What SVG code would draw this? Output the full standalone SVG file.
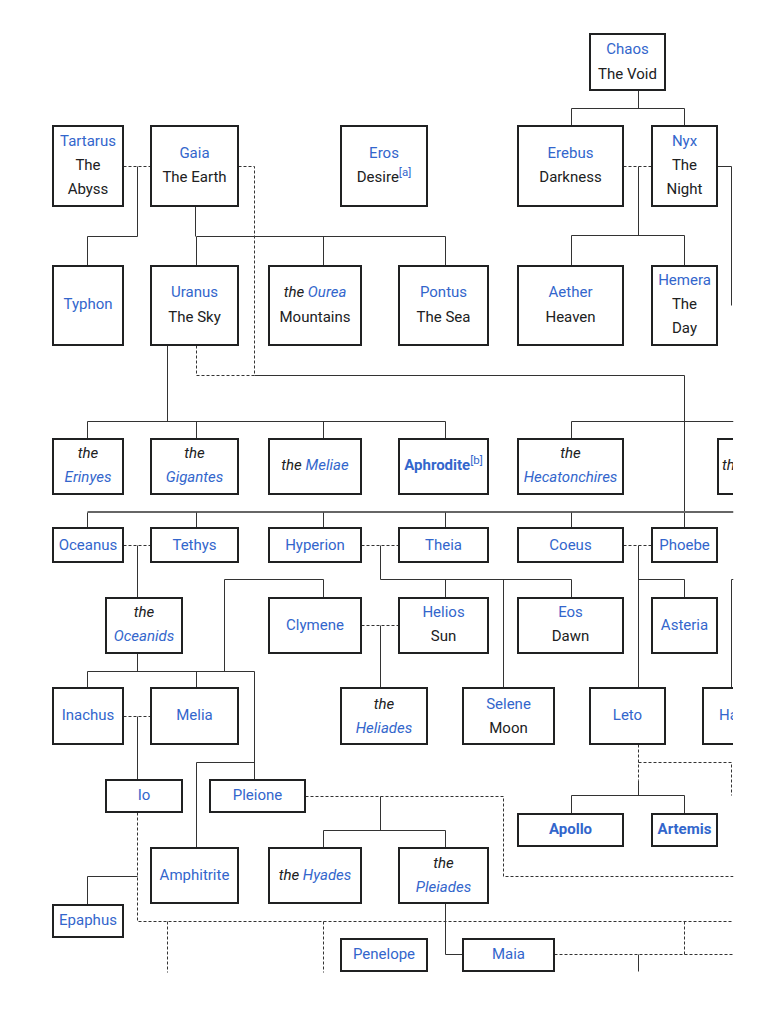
<svg xmlns="http://www.w3.org/2000/svg" width="768" height="1024" viewBox="0 0 768 1024">
<style>
text{font-family:Roboto,"Noto Sans","Liberation Sans",sans-serif;font-size:15px;text-anchor:middle}
.b{fill:#3366cc}.k{fill:#202122}.i{font-style:italic}.w{font-weight:bold}
rect{fill:#fff;stroke:#202122;stroke-width:2}
.c path{fill:none;stroke:#333;stroke-width:1}
.c .d{stroke-dasharray:3 2}
.c .g{stroke:#666;stroke-width:2}
</style>
<defs><clipPath id="clip"><rect x="0" y="0" width="733" height="1024" style="stroke:none"/></clipPath></defs>
<rect x="0" y="0" width="768" height="1024" style="stroke:none;fill:#fff"/>
<g class="c" transform="translate(0.5,0.5)" clip-path="url(#clip)">
<path d="M638 90V108M571 108H684M571 108V126M684 108V126"/>
<path class="d" d="M623 166H652"/>
<path d="M638 166V235M571 235H684M571 235V266M684 235V266"/>
<path d="M717 166H731V305"/>
<path class="d" d="M123 166H151"/>
<path d="M137 166V236H87V266"/>
<path d="M195 206V236M196 236H445M196 236V266M323 236V266M445 236V266"/>
<path class="d" d="M238 166H254V375M196 345V375H254"/>
<path d="M254 375H684V528"/>
<path d="M167 345V421M87 421H445M87 421V439M196 421V439M323 421V439M445 421V439"/>
<path d="M571 421H733M571 421V439"/>
<path class="g" d="M87 511.5H733"/>
<path d="M87 512V528M196 512V528M323 512V528M445 512V528M571 512V528"/>
<path class="d" d="M123 545H151M361 545H399M623 545H652"/>
<path d="M137 545V598"/>
<path d="M380 545V579H571V598M445 579V598M503 579V688"/>
<path d="M638 545V688M638 579H684V598"/>
<path d="M731 579V688M731 579H733"/>
<path d="M224 671V579H323V598"/>
<path d="M137 653V671M87 671H254M87 671V688M196 671V688M254 671V780M254 762H196V848"/>
<path class="d" d="M361 625H399"/>
<path d="M380 625V688"/>
<path class="d" d="M123 716H151"/>
<path d="M137 716V780"/>
<path class="d" d="M137 812V921H733"/>
<path d="M137 876H87V905"/>
<path class="d" d="M167 921V972M323 921V972"/>
<path class="d" d="M305 796H503V876H733"/>
<path d="M380 796V830M323 830H445M323 830V848M445 830V848"/>
<path d="M445 903V954H463"/>
<path class="d" d="M554 954H733M684 921V954"/>
<path d="M638 954V971"/>
<path class="d" d="M638 744V780M638 762H731V795"/>
<path d="M638 780V795M571 795H684M571 795V814M684 795V814"/>
</g>
<g id="chaos"><rect x="590" y="34" width="75" height="56"/><text x="627.5" y="54" class="b">Chaos</text><text x="627.5" y="79" class="k">The Void</text></g>
<g id="tartarus"><rect x="53" y="126" width="70" height="80"/><text x="88" y="146" class="b">Tartarus</text><text x="88" y="170" class="k">The</text><text x="88" y="194" class="k">Abyss</text></g>
<g id="gaia"><rect x="151" y="126" width="87" height="80"/><text x="194.5" y="158" class="b">Gaia</text><text x="194.5" y="182" class="k">The Earth</text></g>
<g id="eros"><rect x="341" y="126" width="86" height="80"/><text x="384" y="158" class="b">Eros</text><text x="384" y="182"><tspan class="k">Desire</tspan><tspan class="b" font-size="11.5" dy="-6">[a]</tspan></text></g>
<g id="erebus"><rect x="518" y="126" width="105" height="80"/><text x="570.5" y="158" class="b">Erebus</text><text x="570.5" y="182" class="k">Darkness</text></g>
<g id="nyx"><rect x="652" y="126" width="65" height="80"/><text x="684.5" y="146" class="b">Nyx</text><text x="684.5" y="170" class="k">The</text><text x="684.5" y="194" class="k">Night</text></g>
<g id="typhon"><rect x="53" y="266" width="70" height="79"/><text x="88" y="309" class="b">Typhon</text></g>
<g id="uranus"><rect x="151" y="266" width="87" height="79"/><text x="194.5" y="297" class="b">Uranus</text><text x="194.5" y="322" class="k">The Sky</text></g>
<g id="ourea"><rect x="269" y="266" width="92" height="79"/><text x="315" y="297" class="i"><tspan class="k">the </tspan><tspan class="b">Ourea</tspan></text><text x="315" y="322" class="k">Mountains</text></g>
<g id="pontus"><rect x="399" y="266" width="89" height="79"/><text x="443.5" y="297" class="b">Pontus</text><text x="443.5" y="322" class="k">The Sea</text></g>
<g id="aether"><rect x="518" y="266" width="105" height="79"/><text x="570.5" y="297" class="b">Aether</text><text x="570.5" y="322" class="k">Heaven</text></g>
<g id="hemera"><rect x="652" y="266" width="65" height="79"/><text x="684.5" y="285" class="b">Hemera</text><text x="684.5" y="309" class="k">The</text><text x="684.5" y="333" class="k">Day</text></g>
<g id="erinyes"><rect x="53" y="439" width="70" height="55"/><text x="88" y="458" class="k i">the</text><text x="88" y="482" class="b i">Erinyes</text></g>
<g id="gigantes"><rect x="151" y="439" width="87" height="55"/><text x="194.5" y="458" class="k i">the</text><text x="194.5" y="482" class="b i">Gigantes</text></g>
<g id="meliae"><rect x="269" y="439" width="92" height="55"/><text x="315" y="470" class="i"><tspan class="k">the </tspan><tspan class="b">Meliae</tspan></text></g>
<g id="aphrodite"><rect x="399" y="439" width="89" height="55"/><text x="443.5" y="470" class="b"><tspan class="w">Aphrodite</tspan><tspan font-size="11.5" dy="-6">[b]</tspan></text></g>
<g id="hecatonchires"><rect x="518" y="439" width="105" height="55"/><text x="570.5" y="458" class="k i">the</text><text x="570.5" y="482" class="b i">Hecatonchires</text></g>
<g id="cyclopes" clip-path="url(#clip)"><rect x="718" y="439" width="60" height="55"/><text x="722" y="470" class="k i" style="text-anchor:start">the</text></g>
<g id="oceanus"><rect x="53" y="528" width="70" height="34"/><text x="88" y="550" class="b">Oceanus</text></g>
<g id="tethys"><rect x="151" y="528" width="87" height="34"/><text x="194.5" y="550" class="b">Tethys</text></g>
<g id="hyperion"><rect x="269" y="528" width="92" height="34"/><text x="315" y="550" class="b">Hyperion</text></g>
<g id="theia"><rect x="399" y="528" width="89" height="34"/><text x="443.5" y="550" class="b">Theia</text></g>
<g id="coeus"><rect x="518" y="528" width="105" height="34"/><text x="570.5" y="550" class="b">Coeus</text></g>
<g id="phoebe"><rect x="652" y="528" width="65" height="34"/><text x="684.5" y="550" class="b">Phoebe</text></g>
<g id="oceanids"><rect x="106" y="598" width="76" height="55"/><text x="144" y="617" class="k i">the</text><text x="144" y="641" class="b i">Oceanids</text></g>
<g id="clymene"><rect x="269" y="598" width="92" height="55"/><text x="315" y="630" class="b">Clymene</text></g>
<g id="helios"><rect x="399" y="598" width="89" height="55"/><text x="443.5" y="617" class="b">Helios</text><text x="443.5" y="641" class="k">Sun</text></g>
<g id="eos"><rect x="518" y="598" width="105" height="55"/><text x="570.5" y="617" class="b">Eos</text><text x="570.5" y="641" class="k">Dawn</text></g>
<g id="asteria"><rect x="652" y="598" width="65" height="55"/><text x="684.5" y="630" class="b">Asteria</text></g>
<g id="inachus"><rect x="53" y="688" width="70" height="56"/><text x="88" y="720" class="b">Inachus</text></g>
<g id="melia"><rect x="151" y="688" width="87" height="56"/><text x="194.5" y="720" class="b">Melia</text></g>
<g id="heliades"><rect x="341" y="688" width="86" height="56"/><text x="384" y="709" class="k i">the</text><text x="384" y="733" class="b i">Heliades</text></g>
<g id="selene"><rect x="463" y="688" width="91" height="56"/><text x="508.5" y="709" class="b">Selene</text><text x="508.5" y="733" class="k">Moon</text></g>
<g id="leto"><rect x="590" y="688" width="75" height="56"/><text x="627.5" y="720" class="b">Leto</text></g>
<g id="hecate" clip-path="url(#clip)"><rect x="703" y="688" width="60" height="56"/><text x="719" y="720" class="b" style="text-anchor:start">Ha</text></g>
<g id="io"><rect x="106" y="780" width="76" height="32"/><text x="144" y="800" class="b">Io</text></g>
<g id="pleione"><rect x="210" y="780" width="95" height="32"/><text x="257.5" y="800" class="b">Pleione</text></g>
<g id="apollo"><rect x="518" y="814" width="105" height="32"/><text x="570.5" y="834" class="b w">Apollo</text></g>
<g id="artemis"><rect x="652" y="814" width="65" height="32"/><text x="684.5" y="834" class="b w">Artemis</text></g>
<g id="amphitrite"><rect x="151" y="848" width="87" height="55"/><text x="194.5" y="880" class="b">Amphitrite</text></g>
<g id="hyades"><rect x="269" y="848" width="92" height="55"/><text x="315" y="880" class="i"><tspan class="k">the </tspan><tspan class="b">Hyades</tspan></text></g>
<g id="pleiades"><rect x="399" y="848" width="89" height="55"/><text x="443.5" y="868" class="k i">the</text><text x="443.5" y="892" class="b i">Pleiades</text></g>
<g id="epaphus"><rect x="53" y="905" width="70" height="32"/><text x="88" y="925" class="b">Epaphus</text></g>
<g id="penelope"><rect x="341" y="939" width="86" height="32"/><text x="384" y="959" class="b">Penelope</text></g>
<g id="maia"><rect x="463" y="939" width="91" height="32"/><text x="508.5" y="959" class="b">Maia</text></g>
</svg>
